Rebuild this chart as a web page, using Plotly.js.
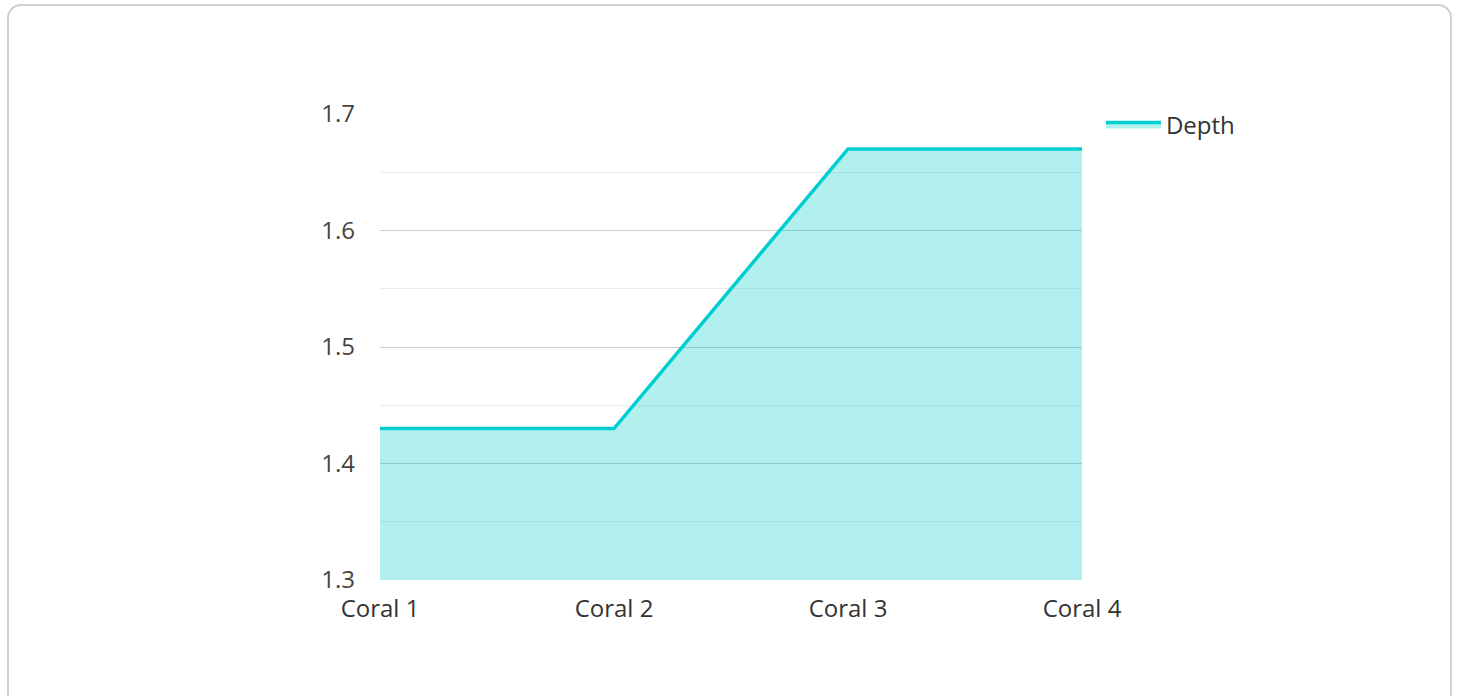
<!DOCTYPE html>
<html>
<head>
<meta charset="utf-8">
<script src="https://cdn.plot.ly/plotly-3.0.1.min.js"></script>
<style>
  html, body { margin: 0; padding: 0; background: #fff; width: 1458px; height: 696px; overflow: hidden; }
  #card { position: absolute; left: 7px; top: 4px; width: 1445px; height: 720px; border: 2px solid #d0d0d0; border-radius: 14px; box-sizing: border-box; }
  #chart { position: absolute; left: 0; top: 0; width: 1458px; height: 696px; }
</style>
</head>
<body>
<div id="card"></div>
<div id="chart"></div>
<script>
const categories = ["Coral 1", "Coral 2", "Coral 3", "Coral 4"];
const depthValues = [1.43, 1.43, 1.67, 1.67];
const seriesName = "Depth";

const trace = {
  x: categories,
  y: depthValues,
  name: seriesName,
  type: "scatter",
  mode: "lines",
  fill: "tozeroy",
  fillcolor: "rgba(0,204,204,0.3)",
  line: { color: "rgb(0,206,209)", width: 3.5 }
};

const layout = {
  width: 1458,
  height: 696,
  paper_bgcolor: "rgba(0,0,0,0)",
  plot_bgcolor: "rgba(0,0,0,0)",
  margin: { l: 380, r: 376, t: 114, b: 116 },
  font: { family: "Open Sans, sans-serif", size: 24, color: "#444" },
  showlegend: true,
  legend: { x: 1.027, y: 1.025, xanchor: "left", yanchor: "top", itemwidth: 55, font: { size: 24, color: "#333" } },
  xaxis: {
    type: "category",
    range: [0, 3],
    showgrid: false,
    zeroline: false,
    showline: false,
    ticks: "",
    ticklabelstandoff: 12,
    tickfont: { size: 24, color: "#333" }
  },
  yaxis: {
    range: [1.3, 1.7],
    dtick: 0.1,
    tick0: 1.3,
    showgrid: true,
    gridcolor: "rgba(0,0,0,0.2)",
    gridwidth: 1,
    zeroline: false,
    showline: false,
    ticks: "",
    ticklabelstandoff: 24,
    tickfont: { size: 24, color: "#444" },
    minor: { dtick: 0.05, tick0: 1.3, showgrid: true, gridcolor: "rgba(0,0,0,0.08)", gridwidth: 1 }
  }
};

Plotly.newPlot("chart", [trace], layout, { displayModeBar: false, staticPlot: true });
</script>
</body>
</html>
